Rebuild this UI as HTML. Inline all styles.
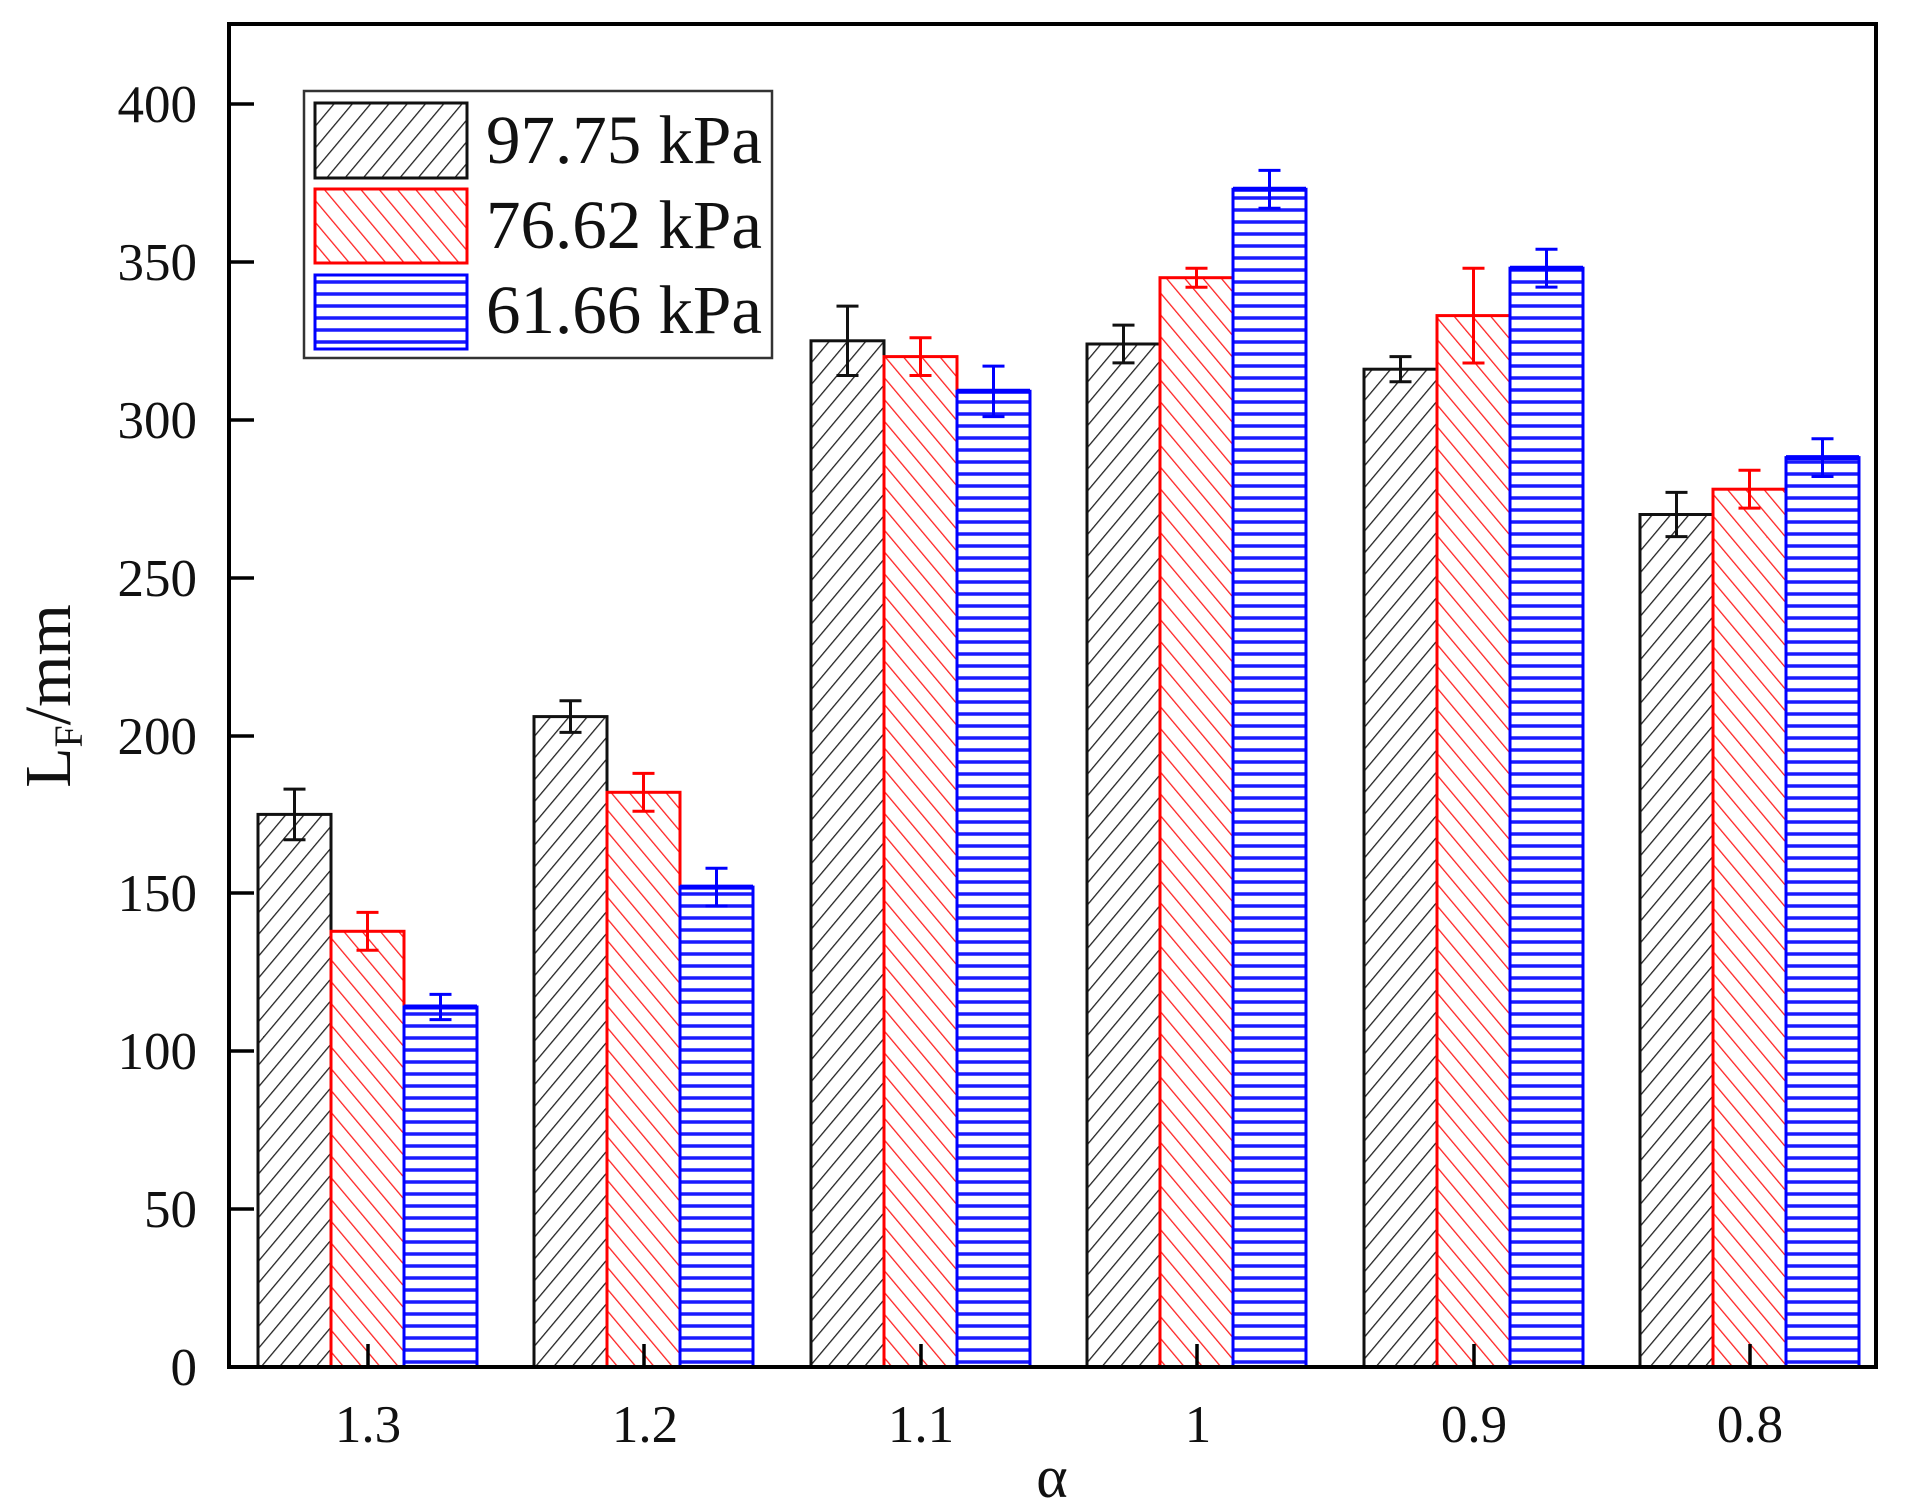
<!DOCTYPE html>
<html><head><meta charset="utf-8"><style>html,body{margin:0;padding:0;background:#fff}svg{display:block}</style></head>
<body>
<svg width="1913" height="1510" viewBox="0 0 1913 1510" xmlns="http://www.w3.org/2000/svg" font-family="Liberation Serif, serif">
<defs>
<pattern id="pk" patternUnits="userSpaceOnUse" width="14" height="14" patternTransform="rotate(40)"><line x1="0" y1="0" x2="0" y2="14" stroke="#222" stroke-width="2.6"/></pattern>
<pattern id="pr" patternUnits="userSpaceOnUse" width="14" height="14" patternTransform="rotate(-40)"><line x1="0" y1="0" x2="0" y2="14" stroke="#f22" stroke-width="2.6"/></pattern>
<pattern id="pb" patternUnits="userSpaceOnUse" width="12" height="12"><line x1="0" y1="6" x2="12" y2="6" stroke="#1a1aff" stroke-width="3.5"/></pattern>
</defs>
<g stroke-width="3">
<rect x="258" y="814.4" width="73" height="552.6" fill="url(#pk)" stroke="#111"/>
<rect x="331" y="931.3" width="73" height="435.7" fill="url(#pr)" stroke="#f00"/>
<rect x="404" y="1007" width="73" height="360" fill="url(#pb)" stroke="#00f"/>
<rect x="534" y="716.6" width="73" height="650.4" fill="url(#pk)" stroke="#111"/>
<rect x="607" y="792.3" width="73" height="574.7" fill="url(#pr)" stroke="#f00"/>
<rect x="680" y="887.1" width="73" height="479.9" fill="url(#pb)" stroke="#00f"/>
<rect x="811" y="340.8" width="73" height="1026.2" fill="url(#pk)" stroke="#111"/>
<rect x="884" y="356.6" width="73" height="1010.4" fill="url(#pr)" stroke="#f00"/>
<rect x="957" y="391.3" width="73" height="975.7" fill="url(#pb)" stroke="#00f"/>
<rect x="1087" y="344" width="73" height="1023" fill="url(#pk)" stroke="#111"/>
<rect x="1160" y="277.7" width="73" height="1089.3" fill="url(#pr)" stroke="#f00"/>
<rect x="1233" y="189.3" width="73" height="1177.7" fill="url(#pb)" stroke="#00f"/>
<rect x="1364" y="369.2" width="73" height="997.8" fill="url(#pk)" stroke="#111"/>
<rect x="1437" y="315.6" width="73" height="1051.4" fill="url(#pr)" stroke="#f00"/>
<rect x="1510" y="268.2" width="73" height="1098.8" fill="url(#pb)" stroke="#00f"/>
<rect x="1640" y="514.5" width="73" height="852.5" fill="url(#pk)" stroke="#111"/>
<rect x="1713" y="489.2" width="73" height="877.8" fill="url(#pr)" stroke="#f00"/>
<rect x="1786" y="457.6" width="73" height="909.4" fill="url(#pb)" stroke="#00f"/>
</g>
<g stroke="#00f" stroke-width="5">
<line x1="404" y1="1007" x2="477" y2="1007"/><line x1="680" y1="887.1" x2="753" y2="887.1"/>
<line x1="957" y1="391.3" x2="1030" y2="391.3"/><line x1="1233" y1="189.3" x2="1306" y2="189.3"/>
<line x1="1510" y1="268.2" x2="1583" y2="268.2"/><line x1="1786" y1="457.6" x2="1859" y2="457.6"/>
</g>
<g fill="none" stroke-width="3">
<path stroke="#111" d="M294.5 789.1V839.7M283.5 789.1H305.5M283.5 839.7H305.5 M570.5 700.8V732.4M559.5 700.8H581.5M559.5 732.4H581.5 M847.5 306.1V375.5M836.5 306.1H858.5M836.5 375.5H858.5 M1123.5 325.1V362.9M1112.5 325.1H1134.5M1112.5 362.9H1134.5 M1400.5 356.6V381.8M1389.5 356.6H1411.5M1389.5 381.8H1411.5 M1676.5 492.4V536.6M1665.5 492.4H1687.5M1665.5 536.6H1687.5"/>
<path stroke="#f00" d="M367.5 912.4V950.2M356.5 912.4H378.5M356.5 950.2H378.5 M643.5 773.4V811.2M632.5 773.4H654.5M632.5 811.2H654.5 M920.5 337.7V375.5M909.5 337.7H931.5M909.5 375.5H931.5 M1196.5 268.2V287.2M1185.5 268.2H1207.5M1185.5 287.2H1207.5 M1473.5 268.2V363M1462.5 268.2H1484.5M1462.5 363H1484.5 M1749.5 470.3V508.1M1738.5 470.3H1760.5M1738.5 508.1H1760.5"/>
<path stroke="#00f" d="M440.5 994.4V1019.6M429.5 994.4H451.5M429.5 1019.6H451.5 M716.5 868.2V906M705.5 868.2H727.5M705.5 906H727.5 M993.5 366.1V416.6M982.5 366.1H1004.5M982.5 416.6H1004.5 M1269.5 170.4V208.2M1258.5 170.4H1280.5M1258.5 208.2H1280.5 M1546.5 249.3V287.1M1535.5 249.3H1557.5M1535.5 287.1H1557.5 M1822.5 438.7V476.5M1811.5 438.7H1833.5M1811.5 476.5H1833.5"/>
</g>
<rect x="229" y="24" width="1647" height="1343" fill="none" stroke="#000" stroke-width="4"/>
<g stroke="#000" stroke-width="3.5">
<line x1="229" y1="104" x2="254" y2="104"/><line x1="229" y1="262" x2="254" y2="262"/>
<line x1="229" y1="420" x2="254" y2="420"/><line x1="229" y1="578" x2="254" y2="578"/>
<line x1="229" y1="736" x2="254" y2="736"/><line x1="229" y1="893" x2="254" y2="893"/>
<line x1="229" y1="1051" x2="254" y2="1051"/><line x1="229" y1="1209" x2="254" y2="1209"/>
<line x1="368" y1="1367" x2="368" y2="1344"/><line x1="644" y1="1367" x2="644" y2="1344"/>
<line x1="921" y1="1367" x2="921" y2="1344"/><line x1="1197" y1="1367" x2="1197" y2="1344"/>
<line x1="1474" y1="1367" x2="1474" y2="1344"/><line x1="1750" y1="1367" x2="1750" y2="1344"/>
</g>
<g font-size="53" text-anchor="end" fill="#111">
<text x="197" y="122">400</text><text x="197" y="280">350</text><text x="197" y="438">300</text>
<text x="197" y="596">250</text><text x="197" y="754">200</text><text x="197" y="911">150</text>
<text x="197" y="1069">100</text><text x="197" y="1227">50</text><text x="197" y="1385">0</text>
</g>
<g font-size="53" text-anchor="middle" fill="#111">
<text x="368" y="1442">1.3</text><text x="645" y="1442">1.2</text><text x="921" y="1442">1.1</text>
<text x="1198" y="1442">1</text><text x="1474" y="1442">0.9</text><text x="1750" y="1442">0.8</text>
<text x="1052" y="1497" font-size="60">α</text>
</g>
<text transform="translate(70,696) rotate(-90)" text-anchor="middle" font-size="66" fill="#111">L<tspan font-size="40" dy="12">F</tspan><tspan dy="-12">/mm</tspan></text>
<rect x="304" y="91" width="468" height="267" fill="#fff" stroke="#333" stroke-width="2.5"/>
<rect x="315" y="103" width="152" height="75" fill="url(#pk)" stroke="#111" stroke-width="3"/>
<rect x="315" y="189" width="152" height="74" fill="url(#pr)" stroke="#f00" stroke-width="3"/>
<rect x="315" y="275" width="152" height="74" fill="url(#pb)" stroke="#00f" stroke-width="3"/>
<g font-size="69" fill="#111"><text x="486" y="163">97.75 kPa</text><text x="486" y="248">76.62 kPa</text><text x="486" y="333">61.66 kPa</text></g>
</svg>
</body></html>
